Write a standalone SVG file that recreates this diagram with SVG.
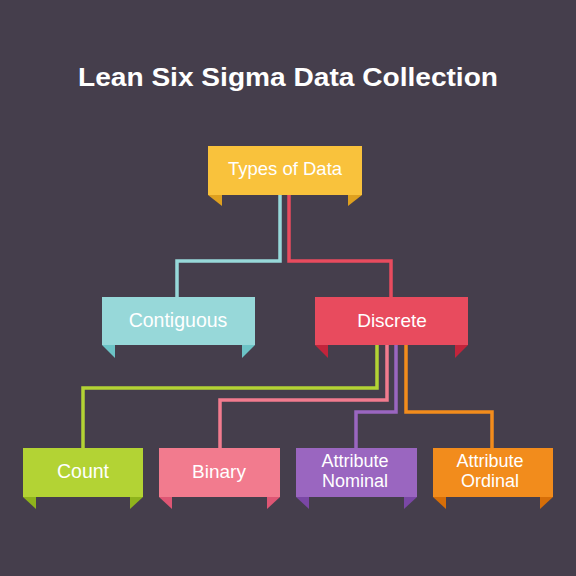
<svg xmlns="http://www.w3.org/2000/svg" width="576" height="576" viewBox="0 0 576 576">
  <style>
    .lbl { font-family: "Liberation Sans", Arial, sans-serif; fill: #ffffff; text-anchor: middle; }
    .title { font-family: "Liberation Sans", Arial, sans-serif; font-weight: bold; fill: #ffffff; text-anchor: middle; font-size: 26px; }
    .conn { fill: none; stroke-width: 3.5; stroke-linejoin: miter; }
  </style>
  <rect width="576" height="576" fill="#453e4c"/>
  <text class="title" x="288" y="86" textLength="420" lengthAdjust="spacingAndGlyphs">Lean Six Sigma Data Collection</text>

  <g id="connectors">
    <path class="conn" stroke="#97d8d9" d="M280,194 V261 H177 V297"/>
    <path class="conn" stroke="#e84b5e" d="M289,194 V261 H391 V297"/>
    <path class="conn" stroke="#b3d334" d="M377,345 V388 H83 V448"/>
    <path class="conn" stroke="#f27b8e" d="M387,345 V400 H220 V448"/>
    <path class="conn" stroke="#9a66c0" d="M396,345 V412 H356 V448"/>
    <path class="conn" stroke="#f28c1c" d="M406,345 V412 H492 V448"/>
  </g>

  <g id="types-of-data">
    <rect x="208" y="146" width="154" height="49" fill="#f9c23c"/>
    <polygon points="208,195 222,195 222,206" fill="#dea01f"/>
    <polygon points="348,195 362,195 348,206" fill="#dea01f"/>
    <text class="lbl" x="285" y="175" font-size="18.5">Types of Data</text>
  </g>

  <g id="contiguous">
    <rect x="102" y="297" width="153" height="48" fill="#97d8d9"/>
    <polygon points="102,345 115,345 115,358" fill="#6cc3c6"/>
    <polygon points="242,345 255,345 242,358" fill="#6cc3c6"/>
    <text class="lbl" x="178" y="327" font-size="19.5">Contiguous</text>
  </g>

  <g id="discrete">
    <rect x="315" y="297" width="153" height="48" fill="#e84b5e"/>
    <polygon points="315,345 328,345 328,358" fill="#c2243b"/>
    <polygon points="455,345 468,345 455,358" fill="#c2243b"/>
    <text class="lbl" x="392" y="327" font-size="19">Discrete</text>
  </g>

  <g id="count">
    <rect x="23" y="448" width="120" height="49" fill="#b3d334"/>
    <polygon points="23,497 36,497 36,509" fill="#8fb31c"/>
    <polygon points="130,497 143,497 130,509" fill="#8fb31c"/>
    <text class="lbl" x="83" y="478" font-size="19.5">Count</text>
  </g>

  <g id="binary">
    <rect x="159" y="448" width="121" height="49" fill="#f27b8e"/>
    <polygon points="159,497 172,497 172,509" fill="#de5674"/>
    <polygon points="267,497 280,497 267,509" fill="#de5674"/>
    <text class="lbl" x="219" y="478" font-size="19">Binary</text>
  </g>

  <g id="attribute-nominal">
    <rect x="296" y="448" width="121" height="49" fill="#9a66c0"/>
    <polygon points="296,497 309,497 309,509" fill="#7a47a5"/>
    <polygon points="404,497 417,497 404,509" fill="#7a47a5"/>
    <text class="lbl" x="355" y="467" font-size="18">Attribute</text>
    <text class="lbl" x="355" y="487" font-size="18">Nominal</text>
  </g>

  <g id="attribute-ordinal">
    <rect x="433" y="448" width="120" height="49" fill="#f28c1c"/>
    <polygon points="433,497 446,497 446,509" fill="#d66e08"/>
    <polygon points="540,497 553,497 540,509" fill="#d66e08"/>
    <text class="lbl" x="490" y="467" font-size="18">Attribute</text>
    <text class="lbl" x="490" y="487" font-size="18">Ordinal</text>
  </g>
</svg>
